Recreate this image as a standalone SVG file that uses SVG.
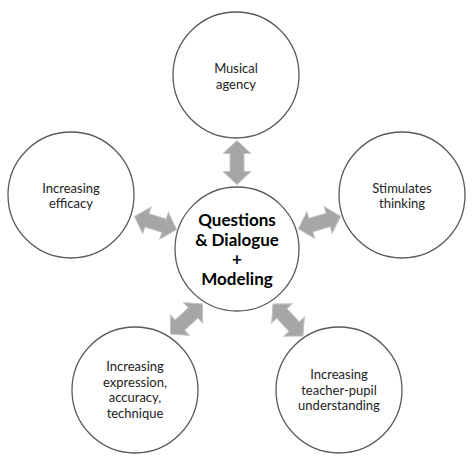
<svg xmlns="http://www.w3.org/2000/svg" width="474" height="468" viewBox="0 0 474 468">
<style>
.c{fill:#fff;stroke:#5a5a5a;stroke-width:1.3}
.t{font-family:Lato,"Open Sans","Liberation Sans",sans-serif;font-size:13px;fill:#222;text-anchor:middle}
.b{font-family:Lato,"Open Sans","Liberation Sans",sans-serif;font-size:17px;font-weight:bold;fill:#000;text-anchor:middle}
.a{fill:#a6a6a6;stroke:#c4c4c4;stroke-width:1}
</style>
<defs>
<path id="arr" d="M -22 0 L -9 -14 L -9 -7 L 9 -7 L 9 -14 L 22 0 L 9 14 L 9 7 L -9 7 L -9 14 Z"/>
</defs>
<rect width="474" height="468" fill="#fff"/>
<g id="connectors">
<use href="#arr" class="a" transform="translate(237,162.5) rotate(90)"/>
<use href="#arr" class="a" transform="translate(155.5,223) rotate(17.5)"/>
<use href="#arr" class="a" transform="translate(319.5,222.5) rotate(-16.5)"/>
<use href="#arr" class="a" transform="translate(186.5,319) rotate(-43)"/>
<use href="#arr" class="a" transform="translate(288,320) rotate(47)"/>
</g>
<g id="center">
<circle class="c" cx="237" cy="249" r="62"/>
<text class="b" x="237" y="226">Questions</text>
<text class="b" x="237" y="245.5">&amp; Dialogue</text>
<text class="b" x="237" y="265">+</text>
<text class="b" x="237" y="284.5">Modeling</text>
</g>
<g id="musical-agency">
<circle class="c" cx="236" cy="75" r="63"/>
<text class="t" x="236" y="73">Musical</text>
<text class="t" x="236" y="88.5">agency</text>
</g>
<g id="increasing-efficacy">
<circle class="c" cx="71" cy="195" r="63"/>
<text class="t" x="71" y="192.5">Increasing</text>
<text class="t" x="71" y="208">efficacy</text>
</g>
<g id="stimulates-thinking">
<circle class="c" cx="402" cy="195" r="63"/>
<text class="t" x="402" y="192.5">Stimulates</text>
<text class="t" x="402" y="208">thinking</text>
</g>
<g id="increasing-expression">
<circle class="c" cx="135" cy="390" r="63"/>
<text class="t" x="135" y="371">Increasing</text>
<text class="t" x="135" y="386.5">expression,</text>
<text class="t" x="135" y="402">accuracy,</text>
<text class="t" x="135" y="417.5">technique</text>
</g>
<g id="increasing-understanding">
<circle class="c" cx="339" cy="390" r="63"/>
<text class="t" x="339" y="379">Increasing</text>
<text class="t" x="339" y="394.5">teacher-pupil</text>
<text class="t" x="339" y="410">understanding</text>
</g>
</svg>
